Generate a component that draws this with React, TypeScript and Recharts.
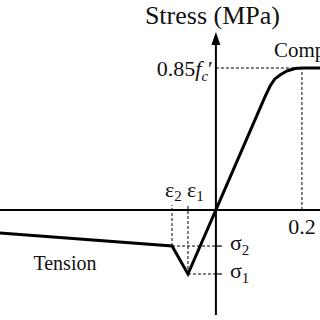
import {
  LineChart,
  Line,
  XAxis,
  YAxis,
  ReferenceLine,
  ReferenceDot,
} from "recharts";

// strain (normalised so that 0.2 sits at the peak) and stress (0.85 f'c = 1)
const strain = [-0.502, -0.102, -0.065, 0, 0.114, 0.126, 0.137, 0.149, 0.165, 0.184, 0.2, 0.242];
const stress = [-0.162, -0.254, -0.451, 0, 0.796, 0.873, 0.923, 0.951, 0.979, 0.996, 1, 1];

const eps2 = -0.102;
const eps1 = -0.065;
const sig2 = -0.254;
const sig1 = -0.451;
const peakStrain = 0.2;
const peakStress = 1;

const xDomain = [-0.502, 0.242];
const yDomain = [-0.775, 1.479];
const axisTop = 1.165;
const arrowTip = 1.254;
const axisBottom = -0.739;

const data = strain.map((x, i) => ({ x, y: stress[i] }));

const FONT = '"Liberation Serif", "DejaVu Serif", serif';

const textAt =
  (dx: number, dy: number, size: number, anchor: string, content: any) =>
  (p: any) =>
    (
      <text
        x={p.cx + dx}
        y={p.cy + dy}
        style={{ fontFamily: FONT, fontSize: size }}
        textAnchor={anchor}
        fill="#111"
      >
        {content}
      </text>
    );

const arrow = (p: any) => (
  <polygon
    points={`${p.cx},${p.cy} ${p.cx - 4.5},${p.cy + 13} ${p.cx + 4.5},${p.cy + 13}`}
    fill="#000"
  />
);

const dash = { stroke: "#000", strokeWidth: 1, strokeDasharray: "3 2" };

const App = () => {
  return (
    <div style={{ position: "absolute", left: 0, top: 0, background: "#fff", fontFamily: FONT }}>
      <LineChart
        width={320}
        height={320}
        data={data}
        margin={{ top: 0, right: 0, bottom: 0, left: 0 }}
      >
        <XAxis dataKey="x" type="number" domain={xDomain} hide allowDataOverflow />
        <YAxis type="number" domain={yDomain} hide allowDataOverflow />

        {/* dashed guides */}
        <ReferenceLine segment={[{ x: 0, y: peakStress }, { x: xDomain[1], y: peakStress }]} {...dash} />
        <ReferenceLine segment={[{ x: peakStrain, y: 0 }, { x: peakStrain, y: peakStress }]} {...dash} />
        <ReferenceLine segment={[{ x: eps2, y: sig2 }, { x: 0, y: sig2 }]} {...dash} />
        <ReferenceLine segment={[{ x: eps1, y: sig1 }, { x: 0, y: sig1 }]} {...dash} />
        <ReferenceLine segment={[{ x: eps2, y: sig2 }, { x: eps2, y: 0.035 }]} {...dash} />
        <ReferenceLine segment={[{ x: eps1, y: sig1 }, { x: eps1, y: 0.035 }]} {...dash} />
        <ReferenceLine segment={[{ x: 0, y: sig2 }, { x: 0.014, y: sig2 }]} stroke="#000" strokeWidth={1.2} />
        <ReferenceLine segment={[{ x: 0, y: sig1 }, { x: 0.014, y: sig1 }]} stroke="#000" strokeWidth={1.2} />

        {/* axes */}
        <ReferenceLine y={0} stroke="#000" strokeWidth={2} />
        <ReferenceLine segment={[{ x: 0, y: axisBottom }, { x: 0, y: axisTop }]} stroke="#000" strokeWidth={2} />
        <ReferenceDot x={0} y={arrowTip} r={0} shape={arrow} />

        <Line
          dataKey="y"
          type="linear"
          stroke="#000"
          strokeWidth={3}
          dot={false}
          activeDot={false}
          isAnimationActive={false}
        />

        {/* labels */}
        <ReferenceDot x={0} y={arrowTip} r={0} shape={textAt(-71, -8, 26, "start", "Stress (MPa)")} />
        <ReferenceDot x={peakStrain} y={peakStress} r={0} shape={textAt(-28, -11, 21, "start", "Compression")} />
        <ReferenceDot
          x={0}
          y={peakStress}
          r={0}
          shape={textAt(-3, 8, 22, "end", (
            <>
              0.85<tspan fontStyle="italic">f</tspan>
              <tspan fontStyle="italic" fontSize={15} dy={5}>c</tspan>
              <tspan dy={-5}>′</tspan>
            </>
          ))}
        />
        <ReferenceDot x={peakStrain} y={0} r={0} shape={textAt(0, 24, 22, "middle", "0.2")} />
        <ReferenceDot x={-0.351} y={-0.423} r={0} shape={textAt(0, 0, 20, "middle", "Tension")} />
        <ReferenceDot
          x={0}
          y={sig2}
          r={0}
          shape={textAt(14, 4, 22, "start", (
            <>σ<tspan fontSize={15} dy={5}>2</tspan></>
          ))}
        />
        <ReferenceDot
          x={0}
          y={sig1}
          r={0}
          shape={textAt(14, 4, 22, "start", (
            <>σ<tspan fontSize={15} dy={5}>1</tspan></>
          ))}
        />
        <ReferenceDot
          x={eps2}
          y={0}
          r={0}
          shape={textAt(-7, -13, 22, "start", (
            <>ε<tspan fontSize={15} dy={4}>2</tspan></>
          ))}
        />
        <ReferenceDot
          x={eps1}
          y={0}
          r={0}
          shape={textAt(-1, -13, 22, "start", (
            <>ε<tspan fontSize={15} dy={4}>1</tspan></>
          ))}
        />
      </LineChart>
    </div>
  );
};

export default App;
